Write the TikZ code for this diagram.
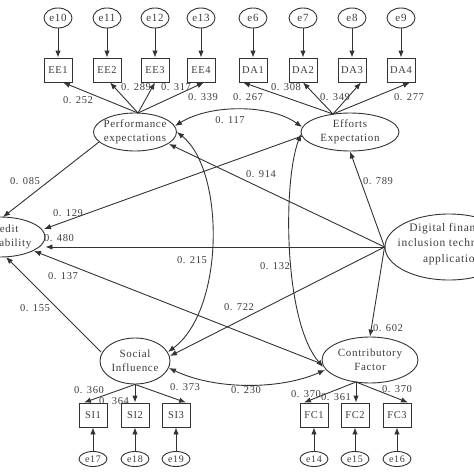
\documentclass[tikz,border=0pt]{standalone}
\usepackage{fontspec}
\setmainfont{Liberation Serif}[LetterSpace=6]
\usetikzlibrary{arrows.meta,shapes.geometric,calc}
\definecolor{ink}{HTML}{333333}
\definecolor{txt}{HTML}{3c3c3c}
\begin{document}
\begin{tikzpicture}[x=1pt,y=-1pt,
  every node/.style={text=txt},
  lat/.style={draw=ink,line width=0.9pt,ellipse,inner sep=0pt},
  lattext/.style={inner sep=0pt,align=center,font=\fontsize{11}{14}\selectfont},
  err/.style={draw=ink,line width=0.9pt,ellipse,inner sep=0pt,minimum width=28pt,minimum height=20pt,font=\fontsize{11}{12}\selectfont},
  errs/.style={err,minimum height=15pt,font=\fontsize{10}{11}\selectfont},
  obs/.style={draw=ink,line width=0.9pt,rectangle,inner sep=0pt,minimum width=28pt,minimum height=24pt,font=\fontsize{10.5}{12}\selectfont},
  coef/.style={inner sep=0pt,font=\fontsize{10.5}{12}\selectfont},
  arr/.style={draw=ink,line width=0.9pt,-{Latex[length=7pt,width=5.5pt]}},
  darr/.style={draw=ink,line width=0.9pt,{Latex[length=7pt,width=5.5pt]}-{Latex[length=7pt,width=5.5pt]}},
]
\useasboundingbox (0,0) rectangle (474,474);
\clip (0,0) rectangle (474,474);

% ---- error terms, top
\foreach \n/\x in {e10/58,e11/107,e12/155,e13/201,e6/253,e7/303,e8/352,e9/401}
  \node[err] (\n) at (\x,18) {\n};
% ---- indicators, top
\foreach \n/\x in {EE1/58,EE2/107,EE3/155,EE4/201,DA1/253,DA2/303,DA3/352,DA4/401}
  \node[obs] (\n) at (\x,70) {\n};
\foreach \e/\b in {e10/EE1,e11/EE2,e12/EE3,e13/EE4,e6/DA1,e7/DA2,e8/DA3,e9/DA4}
  \draw[arr] (\e) -- (\b);

% ---- indicators, bottom
\foreach \n/\x in {SI1/93,SI2/135,SI3/176,FC1/314,FC2/355,FC3/397}
  \node[obs] (\n) at (\x,415) {\n};
\foreach \n/\x in {e17/93,e18/135,e19/176,e14/314,e15/355,e16/397}
  \node[errs] (\n) at (\x,459) {\n};
\foreach \e/\b in {e17/SI1,e18/SI2,e19/SI3,e14/FC1,e15/FC2,e16/FC3}
  \draw[arr] (\e) -- (\b);

% ---- latent variables
\node[lat,minimum width=83pt,minimum height=38pt] (PE) at (135,132) {};
\node[lattext] (PEt) at (PE) {Performance\\expectations};
\node[lat,minimum width=98pt,minimum height=38pt] (EffE) at (350,132) {};
\node[lattext] (EffEt) at (EffE) {Efforts\\Expectation};
\node[lat,minimum width=90pt,minimum height=40pt] (Credit) at (0,237) {};
\node[lattext] (Creditt) at (3,237) {Credit\\availability};
\node[lat,minimum width=128pt,minimum height=66pt] (Digital) at (449,247) {};
\node[lattext,font=\fontsize{11.5}{15.5}\selectfont] (Digitalt) at (452,244) {Digital financial\\inclusion technology\\application};
\node[lat,minimum width=70pt,minimum height=46pt] (SI) at (135,361) {};
\node[lattext] (SIt) at (SI) {Social\\Influence};
\node[lat,minimum width=96pt,minimum height=46pt] (CF) at (370,360) {};
\node[lattext] (CFt) at (CF) {Contributory\\Factor};

% ---- loadings
\coordinate (PEo) at ($(PE)+(3,-19)$);
\draw[arr] (PEo) -- ($(EE1.south)+(5,0)$);
\draw[arr] (PEo) -- ($(EE2.south)+(3,0)$);
\draw[arr] (PEo) -- (EE3.south);
\draw[arr] (PEo) -- ($(EE4.south)+(3,0)$);
\coordinate (EffEo) at ($(EffE)+(-17,-18)$);
\draw[arr] (EffEo) -- ($(DA1.south)+(-10,0)$);
\draw[arr] (EffEo) -- (DA2.south);
\draw[arr] (EffEo) -- ($(DA3.south)+(9,0)$);
\draw[arr] (EffEo) -- ($(DA4.south)+(9,0)$);
\coordinate (SIo) at (SI.south);
\draw[arr] (SIo) -- ($(SI1.north)+(-9,0)$);
\draw[arr] (SIo) -- (SI2.north);
\draw[arr] (SIo) -- ($(SI3.north)+(10,0)$);
\coordinate (CFo) at ($(CF)+(-14,22)$);
\draw[arr] (CFo) -- ($(FC1.north)+(-10,0)$);
\draw[arr] (CFo) -- ($(FC2.north)+(1,0)$);
\draw[arr] (CFo) -- ($(FC3.north)+(11,0)$);

% ---- structural paths
\draw[arr] (Digital.west) -- ($(PE)+(34,12)$);
\draw[arr] (Digital.west) -- (EffE.south);
\draw[arr] (Digital.west) -- ($(Credit.east)+(0,10)$);
\draw[arr] (Digital.west) -- ($(SI)+(35,-5)$);
\draw[arr] (Digital.west) -- (CF.north);
\draw[arr] ($(PE)+(-36,10)$) -- ($(Credit)+(3,-20)$);
\draw[arr] ($(EffE)+(-48,4)$) -- ($(Credit)+(44,-8)$);
\draw[arr] ($(CF)+(-48,4)$) -- ($(Credit)+(34,14)$);
\draw[arr] ($(SI)+(-34,-9)$) -- ($(Credit)+(6,20)$);

% ---- covariances
\draw[darr] ($(PE)+(40,-6)$) .. controls (210,104) and (270,104) .. ($(EffE)+(-48,-5)$);
\draw[darr] (PE.east) .. controls (225,170) and (225,310) .. ($(SI)+(33,-9)$);
\draw[darr] ($(EffE)+(-49,2)$) .. controls (283,180) and (283,320) .. ($(CF)+(-47,7)$);
\draw[darr] ($(SI)+(34,7)$) .. controls (215,390) and (280,390) .. ($(CF)+(-45,10)$);

% ---- coefficients
\node[coef] (c1) at (78,100) {0. 252};
\node[coef] (c2) at (136,87) {0. 289};
\node[coef] (c3) at (176,87) {0. 317};
\node[coef] (c4) at (203,97) {0. 339};
\node[coef] (c5) at (248,97) {0. 267};
\node[coef] (c6) at (286,87) {0. 308};
\node[coef] (c7) at (335,97) {0. 349};
\node[coef] (c8) at (409,97) {0. 277};
\node[coef] (c9) at (230,120) {0. 117};
\node[coef] (c10) at (25,181) {0. 085};
\node[coef] (c11) at (261,174) {0. 914};
\node[coef] (c12) at (378,181) {0. 789};
\node[coef] (c13) at (68,213) {0. 129};
\node[coef] (c14) at (59,238) {0. 480};
\node[coef] (c15) at (63,276) {0. 137};
\node[coef] (c16) at (35,308) {0. 155};
\node[coef] (c17) at (192,260) {0. 215};
\node[coef] (c18) at (275,266) {0. 132};
\node[coef] (c19) at (239,307) {0. 722};
\node[coef] (c20) at (388,328) {0. 602};
\node[coef] (c21) at (246,390) {0. 230};
\node[coef] (c22) at (89,390) {0. 360};
\node[coef] (c23) at (114,401) {0. 364};
\node[coef] (c24) at (185,387) {0. 373};
\node[coef] (c25) at (306,394) {0. 370};
\node[coef] (c26) at (336,397) {0. 361};
\node[coef] (c27) at (397,389) {0. 370};
\end{tikzpicture}
\end{document}
